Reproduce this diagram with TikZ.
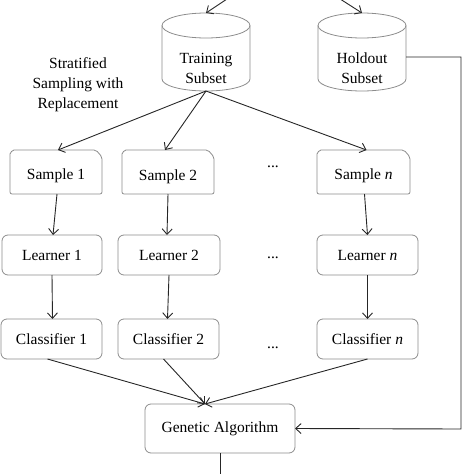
\documentclass[tikz,border=0pt]{standalone}
\usepackage{fontspec}
\setmainfont{Liberation Serif}
\usetikzlibrary{arrows.meta}
\begin{document}
\begin{tikzpicture}[x=1pt,y=-1pt,
  every node/.style={font=\fontsize{15.5}{20}\selectfont, inner sep=0pt, outer sep=0pt},
  boxline/.style={draw=black!45, line width=0.8pt},
  rbox/.style={boxline, rectangle, rounded corners=6pt, minimum height=40pt},
  sbox/.style={rectangle, minimum width=92pt, minimum height=44pt},
  conn/.style={draw=black!85, line width=0.9pt},
  arr/.style={conn, -{Straight Barb[length=5.5pt,width=10pt]}}
]
\useasboundingbox (0,0) rectangle (474,474);

% cylinders
\foreach \cx in {206, 362}{
  \draw[boxline] (\cx-44,25.5) -- (\cx-44,79) arc[start angle=180,end angle=360,x radius=44pt,y radius=12pt] -- (\cx+44,25.5);
  \draw[boxline] (\cx,25.5) ellipse[x radius=44pt, y radius=12.5pt];
}
\coordinate (trtop) at (206,13);
\coordinate (trbot) at (206,91);
\coordinate (hotop) at (362,13);
\coordinate (horight) at (406,57);
\node[align=center] (trtext) at (206,68) {Training\\Subset};
\node[align=center] (hotext) at (362,68) {Holdout\\Subset};

\coordinate (inA) at (230,-3);
\coordinate (inB) at (337,-3);
\draw[arr] (inA) -- (trtop);
\draw[arr] (inB) -- (hotop);

\node[align=center] (strat) at (78,85) {Stratified\\Sampling with\\Replacement};

% samples
\node[sbox] (s1) at (56,172) {};
\node[sbox] (s2) at (168,172) {};
\node[sbox, minimum width=93pt] (sn) at (363.5,172) {};
\foreach \S in {s1,s2,sn}{
  \draw[boxline, rounded corners=2pt] ([xshift=-6pt]\S.north east) -- ([yshift=-7pt]\S.north east)
     -- (\S.south east) -- (\S.south west) -- ([yshift=-6pt]\S.north west)
     arc[start angle=180, end angle=90, radius=6pt] -- cycle;
}
\node (s1t) at ([yshift=-4pt]s1.center) {Sample 1};
\node (s2t) at ([yshift=-5pt]s2.center) {Sample 2};
\node (snt) at ([yshift=-4pt]sn.center) {Sample \textit{n}};
\node (d1) at (273,167) {...};

% learners
\node[rbox, minimum width=100pt] (l1) at (52,255) {Learner 1};
\node[rbox, minimum width=102pt] (l2) at (169,255) {Learner 2};
\node[rbox, minimum width=101pt] (ln) at (367.5,255) {Learner \textit{n}};
\node (d2) at (273,258) {...};

% classifiers
\node[rbox, minimum width=101pt] (c1) at (51.5,339) {Classifier 1};
\node[rbox, minimum width=101pt] (c2) at (168.5,339) {Classifier 2};
\node[rbox, minimum width=101pt] (cn) at (367.5,339) {Classifier \textit{n}};
\node (d3) at (273,348) {...};

% GA
\node[rbox, minimum width=150pt, minimum height=49pt] (ga) at (220,428.5) {Genetic Algorithm};
\coordinate (gain) at (205,404);
\coordinate (outend) at (220,476);
\coordinate (hr) at (461,57);
\coordinate (hb) at (461,429);

% connectors
\draw[arr] (trbot) -- ([xshift=2pt]s1.north);
\draw[arr] (trbot) -- ([xshift=-3pt]s2.north);
\draw[arr] (trbot) -- ([xshift=3pt]sn.north);
\draw[arr] ([xshift=1pt]s1.south) -- ([xshift=1pt]l1.north);
\draw[arr] (s2.south) -- ([xshift=-2pt]l2.north);
\draw[arr] ([xshift=1pt]sn.south) -- (ln.north);
\draw[arr] (l1.south) -- ([xshift=1pt]c1.north);
\draw[arr] (l2.south) -- ([xshift=-1pt]c2.north);
\draw[arr] (ln.south) -- (cn.north);
\draw[arr] ([xshift=-4pt]c1.south) -- (gain);
\draw[arr] ([xshift=-5pt]c2.south) -- (gain);
\draw[arr] (cn.south) -- (gain);
\draw[arr] (horight) -- (hr) -- (hb) -- (ga.east);
\draw[conn] (ga.south) -- (outend);
\end{tikzpicture}
\end{document}
